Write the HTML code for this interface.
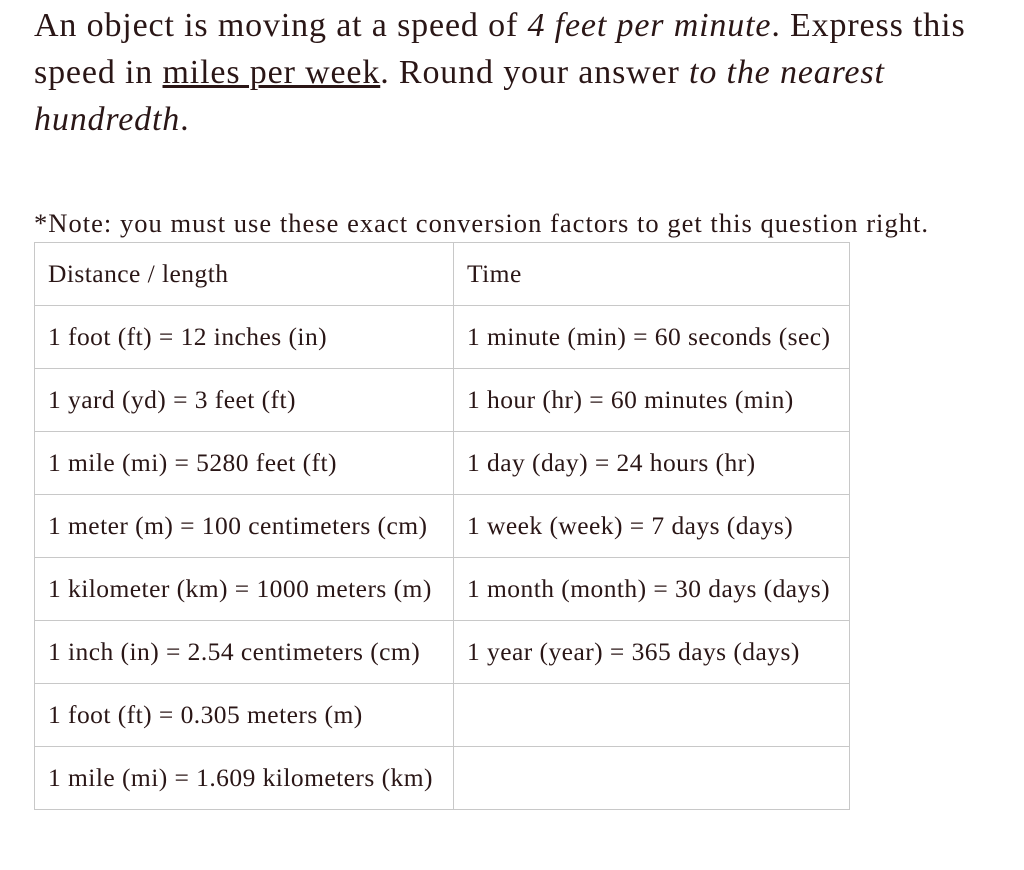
<!DOCTYPE html>
<html><head><meta charset="utf-8"><style>
html,body{margin:0;padding:0;background:#fff;width:1024px;height:870px;overflow:hidden}
body{font-family:"Liberation Serif",serif;color:#2a1616;position:relative}
.h{position:absolute;left:34px;font-size:34px;letter-spacing:0.85px;white-space:nowrap;line-height:47px}
.note{position:absolute;left:34px;top:206px;font-size:26.5px;letter-spacing:1.03px;white-space:nowrap;line-height:34px}
table{position:absolute;left:34px;top:242px;border-collapse:collapse;width:816px}
td{border:1.5px solid #c8c8c8;height:62px;padding:0 0 0 13px;font-size:25.5px;letter-spacing:0.45px;white-space:nowrap;vertical-align:middle}
td:first-child{width:405px}
</style></head><body>
<div class="h" style="top:2px">An object is moving at a speed of <i>4 feet per minute</i>. Express this</div>
<div class="h" style="top:49px">speed in <u>miles per week</u>. Round your answer <i>to the nearest</i></div>
<div class="h" style="top:96px"><i>hundredth</i>.</div>
<div class="note">*Note: you must use these exact conversion factors to get this question right.</div>
<table>
<tr><td>Distance / length</td><td>Time</td></tr>
<tr><td>1 foot (ft) = 12 inches (in)</td><td>1 minute (min) = 60 seconds (sec)</td></tr>
<tr><td>1 yard (yd) = 3 feet (ft)</td><td>1 hour (hr) = 60 minutes (min)</td></tr>
<tr><td>1 mile (mi) = 5280 feet (ft)</td><td>1 day (day) = 24 hours (hr)</td></tr>
<tr><td>1 meter (m) = 100 centimeters (cm)</td><td>1 week (week) = 7 days (days)</td></tr>
<tr><td>1 kilometer (km) = 1000 meters (m)</td><td>1 month (month) = 30 days (days)</td></tr>
<tr><td>1 inch (in) = 2.54 centimeters (cm)</td><td>1 year (year) = 365 days (days)</td></tr>
<tr><td>1 foot (ft) = 0.305 meters (m)</td><td></td></tr>
<tr><td>1 mile (mi) = 1.609 kilometers (km)</td><td></td></tr>
</table>
</body></html>
